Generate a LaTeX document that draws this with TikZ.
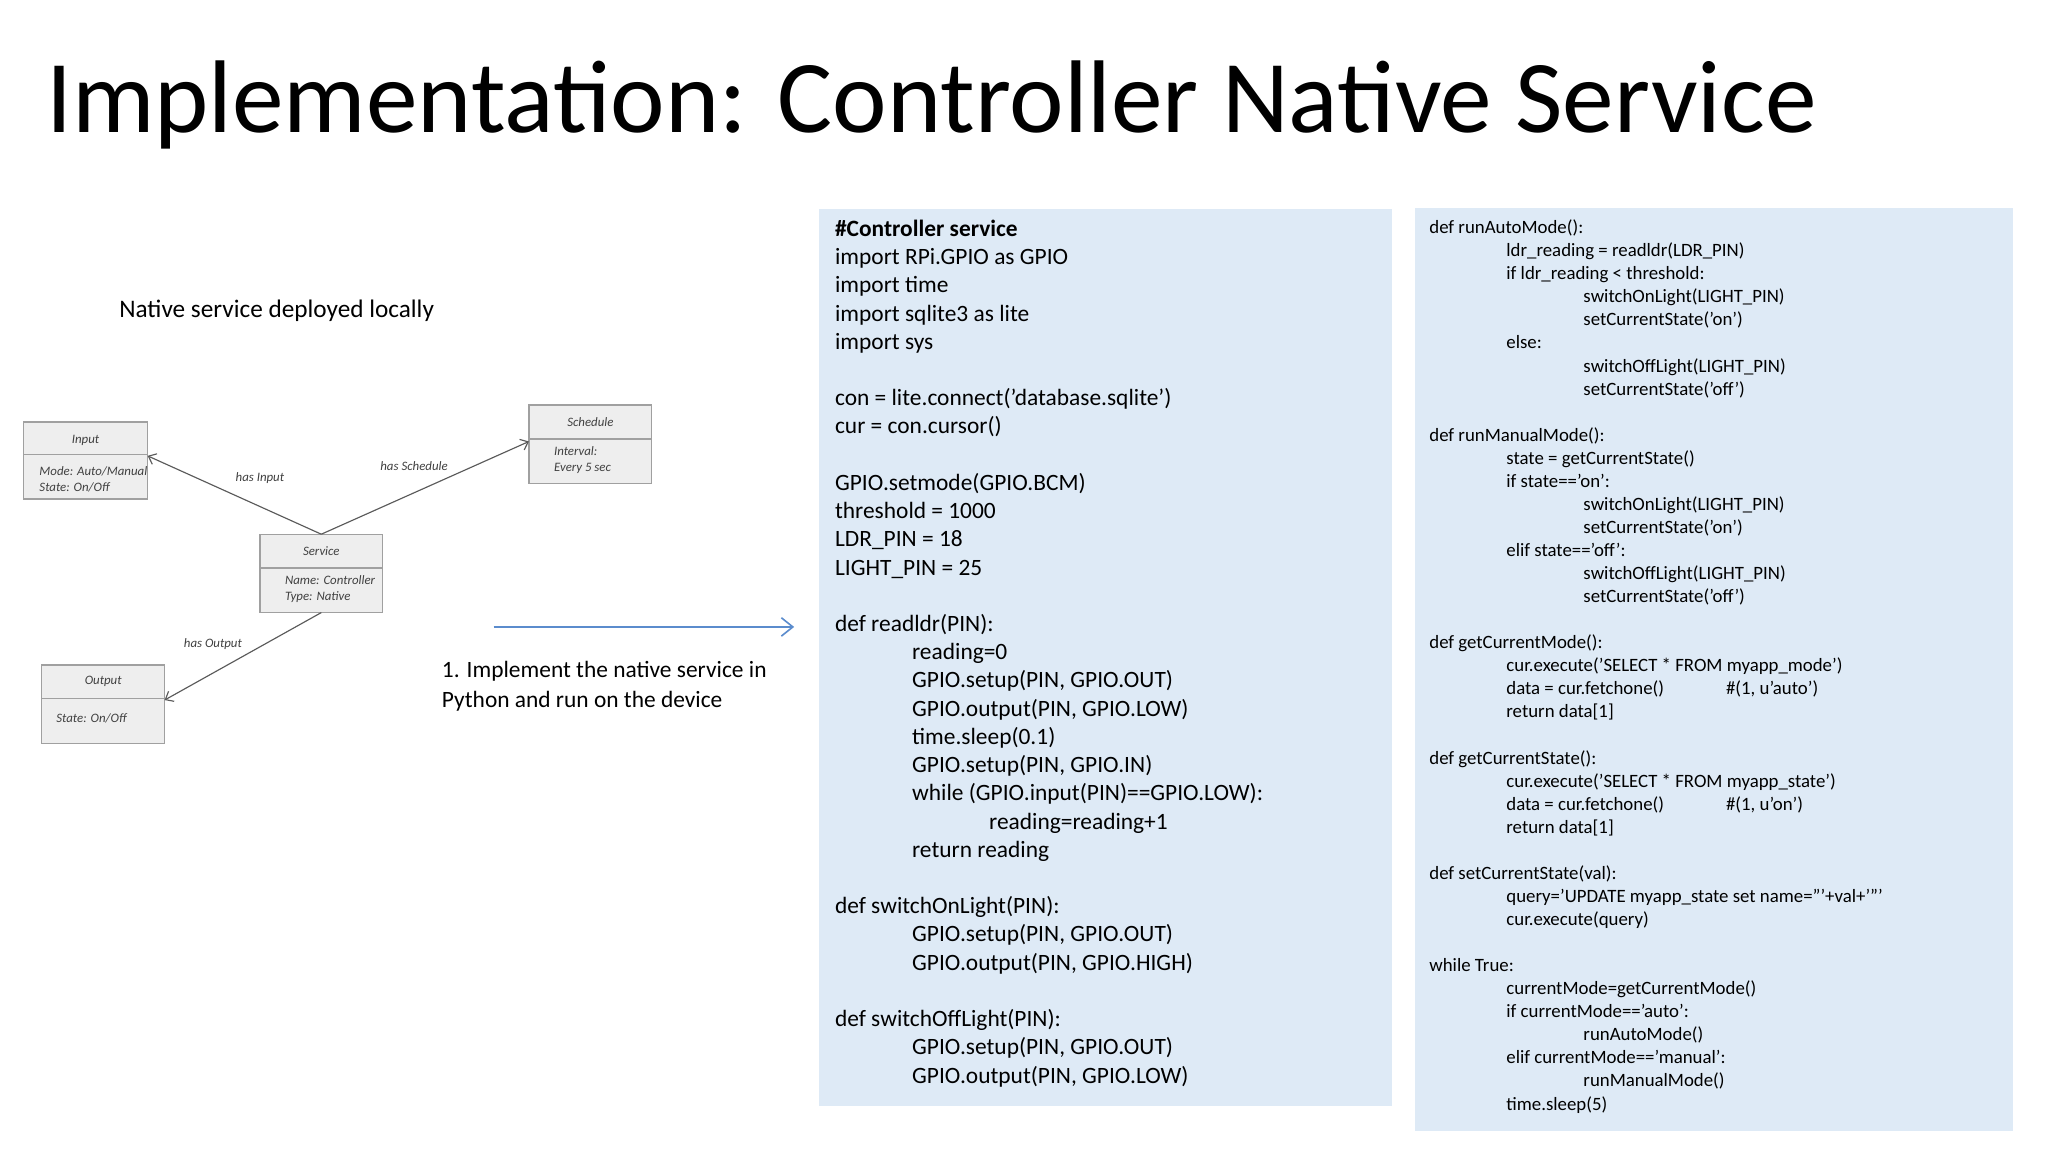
\documentclass[tikz,border=0pt]{standalone}
\usepackage{fontspec}
\setmainfont{Carlito}
\usetikzlibrary{arrows.meta}
\definecolor{panel}{RGB}{222,234,246}
\definecolor{boxfill}{RGB}{238,238,238}
\definecolor{boxline}{RGB}{160,160,160}
\definecolor{conn}{RGB}{90,90,90}
\definecolor{bluearrow}{RGB}{91,140,205}
\begin{document}
\begin{tikzpicture}[x=0.02cm,y=-0.02cm,
  umlbox/.style={draw=boxline,fill=boxfill,line width=0.6pt,inner sep=0pt},
  umltitle/.style={font=\fontsize{5.6}{6.5}\selectfont\itshape,text=black!75},
  umlbody/.style={font=\fontsize{5.6}{7}\selectfont\itshape,text=black!75,align=left,anchor=west},
  conlabel/.style={font=\fontsize{5.6}{6.5}\selectfont\itshape,text=black!75},
  connector/.style={draw=conn,line width=0.5pt,-{Straight Barb[length=3pt,width=5pt]}},
  codeA/.style={font=\fontsize{10.2}{12.3}\selectfont,align=left,anchor=north west,inner sep=0pt},
  codeB/.style={font=\fontsize{8.2}{10.05}\selectfont,align=left,anchor=north west,inner sep=0pt}]
\useasboundingbox (0,0) rectangle (1568,882);
\fill[white] (0,0) rectangle (1568,882);
% title
\node[anchor=west,inner sep=0pt,font=\fontsize{45}{50}\selectfont] (title) at (35,80) {Implementation: Controller Native Service};
% left texts
\node[anchor=west,inner sep=0pt,font=\fontsize{11}{13}\selectfont] (native) at (91,238) {Native service deployed locally};
\node[anchor=north west,inner sep=0pt,align=left,font=\fontsize{10.2}{13.2}\selectfont] (impl) at (338,506) {1. Implement the native service in\\Python and run on the device};
% UML boxes
\node[umlbox,minimum width=95*0.02cm,minimum height=59*0.02cm] (input) at (65.5,352.5) {};
\draw[boxline,line width=0.6pt] (18,348) -- (113,348);
\node[umltitle] (inputT) at (65.5,337) {Input};
\node[umlbody] (inputB) at (24,367) {Mode: Auto/Manual\\State: On/Off};

\node[umlbox,minimum width=94*0.02cm,minimum height=60*0.02cm] (sched) at (452,340) {};
\draw[boxline,line width=0.6pt] (405,336) -- (499,336);
\node[umltitle] (schedT) at (452,323) {Schedule};
\node[umlbody] (schedB) at (418,352) {Interval:\\Every 5 sec};

\node[umlbox,minimum width=94*0.02cm,minimum height=60*0.02cm] (service) at (246,439) {};
\draw[boxline,line width=0.6pt] (199,435) -- (293,435);
\node[umltitle] (serviceT) at (246,422) {Service};
\node[umlbody] (serviceB) at (212,451) {Name: Controller\\Type: Native};

\node[umlbox,minimum width=94*0.02cm,minimum height=60*0.02cm] (output) at (79,539) {};
\draw[boxline,line width=0.6pt] (32,535) -- (126,535);
\node[umltitle] (outputT) at (79,522) {Output};
\node[umlbody] (outputB) at (37,550) {State: On/Off};

\coordinate (stop) at (246,409);
\coordinate (sbot) at (246,469);
\coordinate (inR) at (113,349);
\coordinate (scL) at (405,338);
\coordinate (ouR) at (126,536);
\draw[connector] (stop) -- (inR);
\draw[connector] (stop) -- (scL);
\draw[connector] (sbot) -- (ouR);
\node[conlabel] (l1) at (199,366) {has Input};
\node[conlabel] (l2) at (317,357) {has Schedule};
\node[conlabel] (l3) at (163,493) {has Output};
% blue arrow
\coordinate (ba) at (378,480);
\coordinate (bb) at (608,480);
\draw[bluearrow,line width=0.7pt,-{Straight Barb[length=5pt,width=8pt]}] (ba) -- (bb);
% panels
\fill[panel] (627,160) rectangle (1066,847);
\fill[panel] (1083,159) rectangle (1541,866);
\node[codeA] (codeA) at (639,168) {%
\textbf{\#Controller service}\\
import RPi.GPIO as GPIO\\
import time\\
import sqlite3 as lite\\
import sys\\
\strut\\
con = lite.connect('database.sqlite')\\
cur = con.cursor()\\
\strut\\
GPIO.setmode(GPIO.BCM)\\
threshold = 1000\\
LDR\_PIN = 18\\
LIGHT\_PIN = 25\\
\strut\\
def readldr(PIN):\\
\hspace*{1.18cm}reading=0\\
\hspace*{1.18cm}GPIO.setup(PIN, GPIO.OUT)\\
\hspace*{1.18cm}GPIO.output(PIN, GPIO.LOW)\\
\hspace*{1.18cm}time.sleep(0.1)\\
\hspace*{1.18cm}GPIO.setup(PIN, GPIO.IN)\\
\hspace*{1.18cm}while (GPIO.input(PIN)==GPIO.LOW):\\
\hspace*{2.36cm}reading=reading+1\\
\hspace*{1.18cm}return reading\\
\strut\\
def switchOnLight(PIN):\\
\hspace*{1.18cm}GPIO.setup(PIN, GPIO.OUT)\\
\hspace*{1.18cm}GPIO.output(PIN, GPIO.HIGH)\\
\strut\\
def switchOffLight(PIN):\\
\hspace*{1.18cm}GPIO.setup(PIN, GPIO.OUT)\\
\hspace*{1.18cm}GPIO.output(PIN, GPIO.LOW)};
\node[codeB] (codeB) at (1094,168) {%
def runAutoMode():\\
\hspace*{1.18cm}ldr\_reading = readldr(LDR\_PIN)\\
\hspace*{1.18cm}if ldr\_reading < threshold:\\
\hspace*{2.36cm}switchOnLight(LIGHT\_PIN)\\
\hspace*{2.36cm}setCurrentState('on')\\
\hspace*{1.18cm}else:\\
\hspace*{2.36cm}switchOffLight(LIGHT\_PIN)\\
\hspace*{2.36cm}setCurrentState('off')\\
\strut\\
def runManualMode():\\
\hspace*{1.18cm}state = getCurrentState()\\
\hspace*{1.18cm}if state=='on':\\
\hspace*{2.36cm}switchOnLight(LIGHT\_PIN)\\
\hspace*{2.36cm}setCurrentState('on')\\
\hspace*{1.18cm}elif state=='off':\\
\hspace*{2.36cm}switchOffLight(LIGHT\_PIN)\\
\hspace*{2.36cm}setCurrentState('off')\\
\strut\\
def getCurrentMode():\\
\hspace*{1.18cm}cur.execute('SELECT * FROM myapp\_mode')\\
\hspace*{1.18cm}data = cur.fetchone()\hspace*{0.95cm}\#(1, u'auto')\\
\hspace*{1.18cm}return data[1]\\
\strut\\
def getCurrentState():\\
\hspace*{1.18cm}cur.execute('SELECT * FROM myapp\_state')\\
\hspace*{1.18cm}data = cur.fetchone()\hspace*{0.95cm}\#(1, u'on')\\
\hspace*{1.18cm}return data[1]\\
\strut\\
def setCurrentState(val):\\
\hspace*{1.18cm}query='UPDATE myapp\_state set name="'+val+'"'\\
\hspace*{1.18cm}cur.execute(query)\\
\strut\\
while True:\\
\hspace*{1.18cm}currentMode=getCurrentMode()\\
\hspace*{1.18cm}if currentMode=='auto':\\
\hspace*{2.36cm}runAutoMode()\\
\hspace*{1.18cm}elif currentMode=='manual':\\
\hspace*{2.36cm}runManualMode()\\
\hspace*{1.18cm}time.sleep(5)};
\end{tikzpicture}
\end{document}
